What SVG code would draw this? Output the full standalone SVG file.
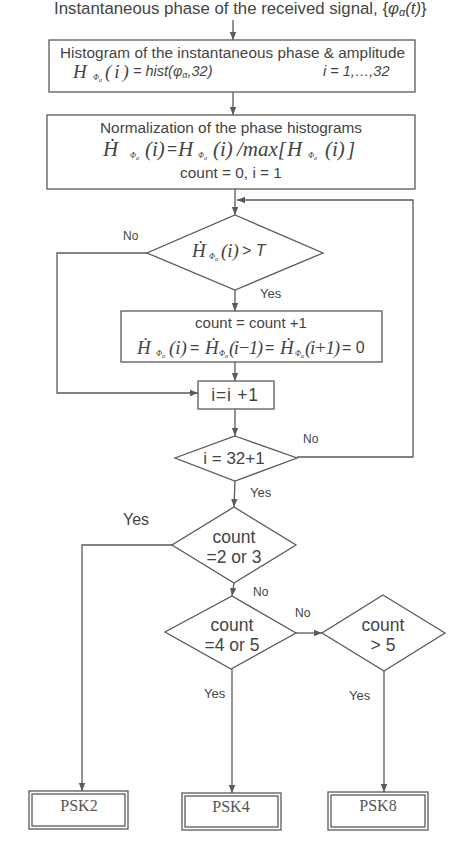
<svg xmlns="http://www.w3.org/2000/svg" width="474" height="860" viewBox="0 0 474 860">
<style>
  .ln{fill:none;stroke:#5a5a5a;stroke-width:1.3}
  .bx{fill:#fff;stroke:#5a5a5a;stroke-width:1.3}
  .t{font-family:"Liberation Sans",Arial,sans-serif;fill:#444}
  .c{text-anchor:middle}
  .m{font-family:"Liberation Serif","Times New Roman",serif;font-style:italic;fill:#444}
  .sf{font-family:"Liberation Sans",Arial,sans-serif;font-style:normal}
  .s1{font-size:8px}
  .s2{font-size:6px}
  .lb{font-family:"Liberation Sans",Arial,sans-serif;fill:#444}
  .psk{font-family:"Liberation Serif","Times New Roman",serif;fill:#555;font-size:16px;text-anchor:middle}
</style>
<defs>
  <marker id="ah" viewBox="0 0 10 10" refX="10" refY="5" markerWidth="8" markerHeight="8" orient="auto" markerUnits="userSpaceOnUse">
    <path d="M0,1 L10,5 L0,9 Z" fill="#5a5a5a"/>
  </marker>
</defs>
<rect width="474" height="860" fill="#fff"/>

<text id="title" class="t" font-size="16.8" x="54" y="14">Instantaneous phase of the received signal, {<tspan font-style="italic">φ<tspan font-size="11" dy="2">α</tspan><tspan dy="-2">(t)</tspan></tspan>}</text>

<g id="connectors">
  <line class="ln" x1="233" y1="20" x2="233" y2="40" marker-end="url(#ah)"/>
  <line class="ln" x1="233" y1="92" x2="233" y2="115" marker-end="url(#ah)"/>
  <line class="ln" x1="235" y1="189" x2="235" y2="215" marker-end="url(#ah)"/>
  <polyline class="ln" points="297,457 413,457 413,200 237,200" marker-end="url(#ah)"/>
  <line class="ln" x1="235" y1="290" x2="235" y2="311" marker-end="url(#ah)"/>
  <polyline class="ln" points="147,253 57,253 57,393 198,393" marker-end="url(#ah)"/>
  <line class="ln" x1="235" y1="362" x2="235" y2="381" marker-end="url(#ah)"/>
  <line class="ln" x1="235" y1="409" x2="235" y2="436" marker-end="url(#ah)"/>
  <line class="ln" x1="235" y1="481" x2="234" y2="507" marker-end="url(#ah)"/>
  <polyline class="ln" points="172,545 82,545 82,791" marker-end="url(#ah)"/>
  <line class="ln" x1="234" y1="583" x2="232" y2="596" marker-end="url(#ah)"/>
  <line class="ln" x1="296" y1="633" x2="322" y2="633" marker-end="url(#ah)"/>
  <line class="ln" x1="232" y1="669" x2="232" y2="793" marker-end="url(#ah)"/>
  <line class="ln" x1="384" y1="671" x2="384" y2="792" marker-end="url(#ah)"/>
  <text class="lb" font-size="12" x="123" y="240">No</text>
  <text class="lb" font-size="13" x="260" y="298">Yes</text>
  <text class="lb" font-size="12" x="303" y="443">No</text>
  <text class="lb" font-size="13" x="250" y="497">Yes</text>
  <text class="lb" font-size="16" x="123" y="525">Yes</text>
  <text class="lb" font-size="12" x="253" y="596">No</text>
  <text class="lb" font-size="12" x="295" y="617">No</text>
  <text class="lb" font-size="13" x="204" y="698">Yes</text>
  <text class="lb" font-size="13" x="349" y="700">Yes</text>
</g>

<g id="hist">
  <rect class="bx" x="49" y="40" width="366" height="52"/>
  <text class="t" font-size="15.3" x="60" y="58" textLength="345" lengthAdjust="spacing">Histogram of the instantaneous phase &amp; amplitude</text>
  <text class="m" font-size="19"><tspan x="73" y="78">H</tspan><tspan class="s1" x="93" y="80">Φ</tspan><tspan class="s2" x="99" y="82">α</tspan><tspan x="105" y="78" letter-spacing="3">(i)</tspan></text>
  <text class="t" font-style="italic" font-size="14.5" x="133" y="76">= hist(φ<tspan font-size="9" dy="2">α</tspan><tspan dy="-2">,32)</tspan></text>
  <text class="t" font-style="italic" font-size="14.5" x="323" y="76">i = 1,…,32</text>
</g>

<g id="norm">
  <rect class="bx" x="47" y="115" width="368" height="74"/>
  <text class="t" font-size="15.4" x="100" y="133" textLength="262" lengthAdjust="spacing">Normalization of the phase histograms</text>
  <text class="m" font-size="21"><tspan x="103" y="156">Ḣ</tspan><tspan class="s1" x="130" y="158">Φ</tspan><tspan class="s2" x="136" y="160">α</tspan><tspan x="145" y="156">(i)</tspan><tspan class="sf" font-size="17" x="167" y="154">=</tspan><tspan x="178" y="156">H</tspan><tspan class="s1" x="198" y="158">Φ</tspan><tspan class="s2" x="204" y="160">α</tspan><tspan x="213" y="156">(i)</tspan><tspan x="237" y="156">/max[</tspan><tspan x="287" y="156">H</tspan><tspan class="s1" x="308" y="158">Φ</tspan><tspan class="s2" x="314" y="160">α</tspan><tspan x="325" y="156">(i)</tspan><tspan x="347" y="156">]</tspan></text>
  <text class="t c" font-size="15.4" x="231" y="178">count = 0, i = 1</text>
</g>

<g id="thresh">
  <polygon class="bx" points="235,215 323,253 235,290 147,253"/>
  <text class="m" font-size="19"><tspan x="192" y="257">Ḣ</tspan><tspan class="s1" x="209" y="259">Φ</tspan><tspan class="s2" x="215" y="261">α</tspan><tspan x="221" y="257">(i)</tspan><tspan class="sf" font-size="16" x="242" y="256">&gt; </tspan><tspan font-family="Liberation Sans,Arial,sans-serif" font-size="16" y="256">T</tspan></text>
</g>

<g id="update">
  <rect class="bx" x="121" y="311" width="261" height="51"/>
  <text class="t c" font-size="15" x="251" y="328">count = count +1</text>
  <text class="m" font-size="19"><tspan x="137" y="354">Ḣ</tspan><tspan class="s1" x="156" y="356">Φ</tspan><tspan class="s2" x="162" y="358">α</tspan><tspan x="169" y="354">(i)</tspan><tspan class="sf" font-size="16" x="190" y="353">=</tspan><tspan x="205" y="354">Ḣ</tspan><tspan class="s1" x="219" y="356">Φ</tspan><tspan class="s2" x="225" y="358">α</tspan><tspan x="229" y="354" textLength="34">(i−1)</tspan><tspan class="sf" font-size="16" x="265" y="353">=</tspan><tspan x="280" y="354">Ḣ</tspan><tspan class="s1" x="295" y="356">Φ</tspan><tspan class="s2" x="301" y="358">α</tspan><tspan x="305" y="354" textLength="35">(i+1)</tspan><tspan class="sf" font-size="16" x="342" y="353">= 0</tspan></text>
</g>

<g id="incr">
  <rect class="bx" x="198" y="381" width="76" height="28"/>
  <text class="t c" font-size="17.5" x="235" y="401" letter-spacing="0.8">i=i +1</text>
</g>

<g id="endcheck">
  <polygon class="bx" points="235,436 297,458 235,481 175,458"/>
  <text class="t c" font-size="17" x="234" y="464">i = 32+1</text>
</g>

<g id="c23">
  <polygon class="bx" points="234,507 296,545 234,583 172,545"/>
  <text class="t c" font-size="17.5" x="234" y="543">count</text>
  <text class="t c" font-size="17.5" x="234" y="563">=2 or 3</text>
</g>

<g id="c45">
  <polygon class="bx" points="232,596 296,633 231,669 165,632"/>
  <text class="t c" font-size="17.5" x="232" y="631">count</text>
  <text class="t c" font-size="17.5" x="232" y="651">=4 or 5</text>
</g>

<g id="c5">
  <polygon class="bx" points="383,595 445,633 384,671 322,633"/>
  <text class="t c" font-size="17.5" x="383" y="631">count</text>
  <text class="t c" font-size="17.5" x="383" y="651">&gt; 5</text>
</g>

<g id="psk2">
  <rect class="bx" x="29" y="791" width="99" height="38"/>
  <rect class="ln" x="32" y="794" width="93" height="32"/>
  <text class="psk" x="79" y="811">PSK2</text>
</g>
<g id="psk4">
  <rect class="bx" x="182" y="793" width="99" height="37"/>
  <rect class="ln" x="185" y="796" width="93" height="31"/>
  <text class="psk" x="231" y="812">PSK4</text>
</g>
<g id="psk8">
  <rect class="bx" x="328" y="792" width="100" height="38"/>
  <rect class="ln" x="331" y="795" width="94" height="32"/>
  <text class="psk" x="378" y="811">PSK8</text>
</g>
</svg>
